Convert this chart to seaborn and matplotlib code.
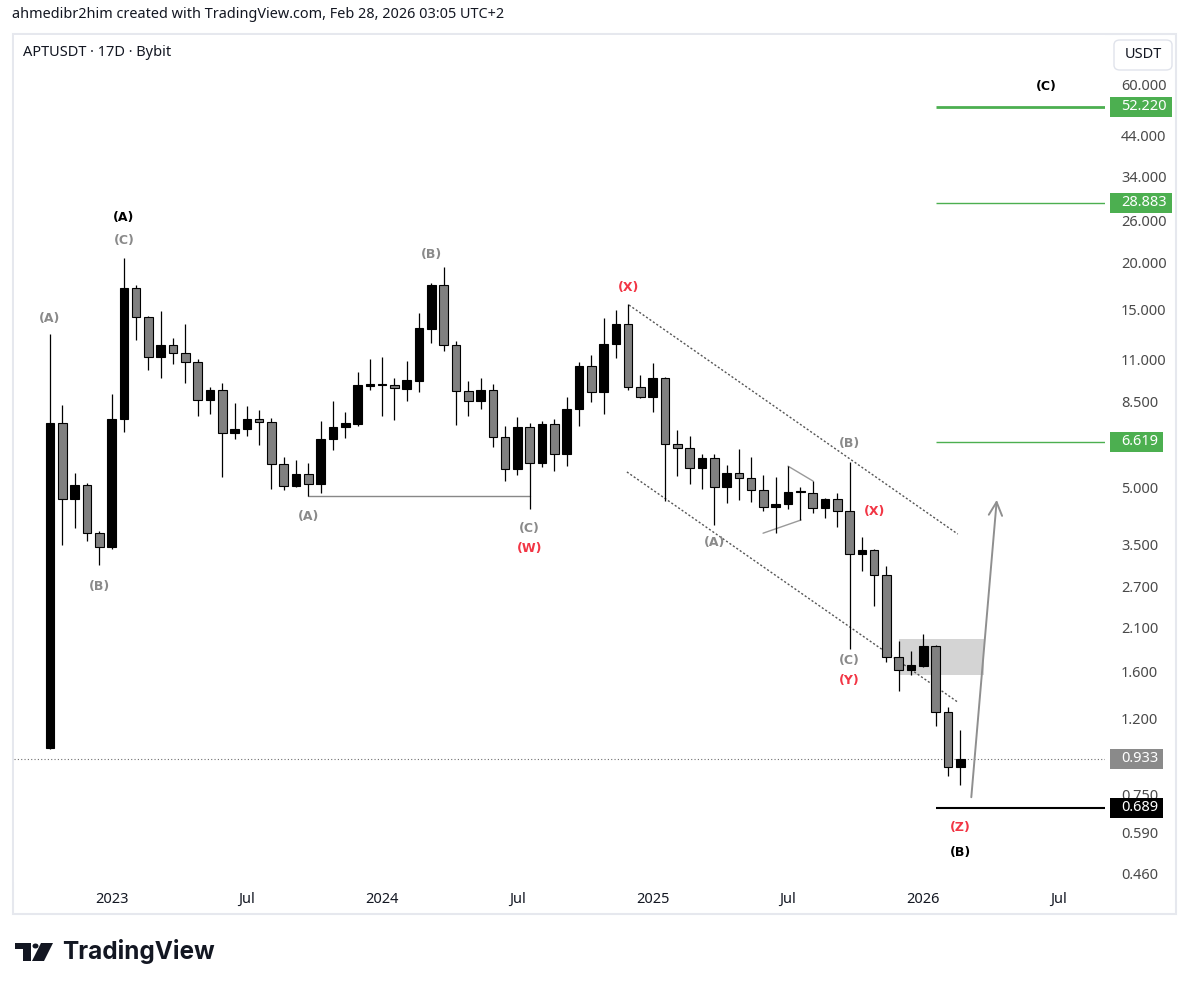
import matplotlib
matplotlib.use("Agg")
import matplotlib.pyplot as plt
from matplotlib.patches import Rectangle, FancyBboxPatch, Polygon, Circle
from matplotlib.ticker import NullLocator
import seaborn as sns

W, H = 1189, 990

# APTUSDT 17D candles (bar index 0 = first Bybit bar, Oct 2022)
opens = [1.00, 7.43, 4.64, 5.06, 3.76, 3.45, 7.62, 17.1, 14.3, 11.2,
         12.0, 11.45, 10.8, 8.56, 9.11, 6.99, 7.16, 7.62, 7.47, 5.77,
         5.03, 5.42, 5.09, 6.73, 7.25, 7.40, 9.33, 9.42, 9.39, 9.16,
         9.63, 13.3, 17.4, 12.0, 9.05, 8.51, 9.11, 6.81, 5.59, 7.25,
         5.80, 7.38, 6.13, 8.10, 10.57, 9.00, 12.1, 13.7, 9.28, 8.72,
         9.81, 6.52, 6.36, 5.62, 5.98, 5.00, 5.45, 5.29, 4.91, 4.42,
         4.50, 4.85, 4.82, 4.39, 4.64, 4.31, 3.30, 3.39, 2.90, 1.75,
         1.61, 1.655, 1.87, 1.245, 0.886]
highs = [12.9, 8.30, 5.45, 5.12, 3.80, 8.88, 20.6, 17.4, 14.4, 14.8,
         12.6, 13.7, 11.0, 9.30, 9.50, 8.40, 8.25, 8.05, 7.66, 6.02,
         5.91, 5.80, 7.52, 8.50, 7.95, 10.2, 11.04, 11.17, 9.81, 10.9,
         14.7, 17.6, 19.5, 12.3, 9.63, 9.81, 9.45, 7.29, 7.71, 7.43,
         7.52, 7.62, 8.72, 10.8, 11.3, 14.2, 14.9, 15.5, 10.0, 10.76,
         9.90, 7.11, 6.86, 6.13, 6.13, 5.73, 6.33, 6.02, 5.39, 5.32,
         5.69, 5.00, 5.19, 4.66, 4.82, 5.84, 3.67, 3.42, 3.07, 1.93,
         1.82, 2.02, 1.89, 1.284, 1.114]
lows = [0.99, 3.49, 3.88, 3.58, 3.09, 3.42, 7.03, 12.4, 10.3, 9.80,
        10.7, 9.50, 7.75, 7.85, 5.32, 6.73, 6.86, 6.48, 4.94, 4.91,
        5.00, 4.73, 4.82, 6.29, 6.77, 7.30, 9.11, 7.75, 7.57, 8.51,
        9.00, 12.2, 11.6, 7.34, 7.75, 8.10, 6.40, 5.19, 5.39, 4.37,
        5.66, 5.52, 5.69, 7.29, 8.46, 7.85, 11.1, 9.11, 8.65, 7.95,
        4.59, 5.35, 5.09, 4.94, 3.96, 4.53, 4.62, 4.56, 4.31, 3.76,
        4.37, 4.08, 4.26, 4.13, 3.90, 1.84, 2.98, 2.40, 1.70, 1.42,
        1.565, 1.64, 1.14, 0.838, 0.793]
closes = [7.43, 4.64, 5.06, 3.76, 3.45, 7.62, 17.1, 14.3, 11.2, 12.0,
          11.45, 10.8, 8.56, 9.11, 6.99, 7.16, 7.62, 7.47, 5.77, 5.03,
          5.42, 5.09, 6.73, 7.25, 7.43, 9.39, 9.45, 9.45, 9.22, 9.69,
          13.4, 17.4, 12.0, 9.05, 8.51, 9.11, 6.81, 5.59, 7.25, 5.80,
          7.38, 6.13, 8.10, 10.57, 9.00, 12.1, 13.7, 9.28, 8.72, 9.81,
          6.52, 6.36, 5.62, 5.98, 5.00, 5.45, 5.29, 4.91, 4.42, 4.50,
          4.85, 4.88, 4.39, 4.64, 4.31, 3.30, 3.39, 2.90, 1.75, 1.61,
          1.665, 1.87, 1.245, 0.886, 0.933]

# time axis
tick_idx = [5, 16, 27, 38, 49, 60, 71, 82]
tick_labels = ["2023", "Jul", "2024", "Jul", "2025", "Jul", "2026", "Jul"]

# price axis
price_ticks = [60, 44, 34, 26, 20, 15, 11, 8.5, 5, 3.5, 2.7, 2.1, 1.6, 1.2, 0.75, 0.59, 0.46]

# horizontal levels on the right
level_vals = [52.220, 28.883, 6.619, 0.689]
level_colors = ["#4caf50", "#4caf50", "#4caf50", "#000000"]
level_widths = [2.0, 1.0, 1.0, 1.5]
level_start = 72
last_price = 0.933

# Elliott wave labels
wave_text = ["(A)", "(A)", "(C)", "(B)", "(A)", "(B)", "(C)", "(W)", "(X)", "(A)",
             "(B)", "(X)", "(C)", "(Y)", "(Z)", "(B)", "(C)"]
wave_idx = [0, 6, 6, 4, 21, 31, 39, 39, 47, 54, 65, 67, 65, 65, 74, 74, 81]
wave_price = [14.2, 26.5, 23.0, 2.70, 4.18, 21.1, 3.88, 3.43, 17.2, 3.56,
              6.56, 4.29, 1.71, 1.51, 0.611, 0.524, 59.6]
wave_color = ["#8a8a8a", "#000000", "#8a8a8a", "#8a8a8a", "#8a8a8a", "#8a8a8a",
              "#8a8a8a", "#f23645", "#f23645", "#8a8a8a", "#8a8a8a", "#f23645",
              "#8a8a8a", "#f23645", "#f23645", "#000000", "#000000"]

# drawings
base_line = ([21, 39], [4.73, 4.73])
chan_upper = ([47.07, 73.8], [15.4, 3.74])
chan_lower = ([46.9, 73.8], [5.49, 1.324])
tri_lower = ([57.97, 61.06], [3.76, 4.08])
tri_upper = ([60.0, 62.03], [5.69, 5.19])
zone_x = (69.0, 75.9)
zone_y = (1.565, 1.955)
arrow_from = (74.88, 0.723)
arrow_to = (76.99, 4.70)

sns.set_theme(style="white")
plt.rcParams["font.family"] = ["Noto Sans", "DejaVu Sans"]

fig = plt.figure(figsize=(W / 100, H / 100), dpi=100)
fig.patch.set_facecolor("white")

def fx(px):
    return px / W

def fy(py):
    return 1 - py / H

ax = fig.add_axes([fx(14), fy(882), (1105 - 14) / W, (882 - 35) / H])
ax.set_facecolor("white")
ax.set_yscale("log")
ax.set_xlim(-2.93, 85.77)
ax.set_ylim(0.4356, 81.7)
for s in ax.spines.values():
    s.set_visible(False)

# candles
xs = list(range(len(opens)))
ax.vlines(xs, lows, highs, color="black", lw=0.9, zorder=3)
bottoms = [min(o, c) for o, c in zip(opens, closes)]
heights = [max(abs(c - o), 1e-4) for o, c in zip(opens, closes)]
colors = ["black" if c >= o else "#808080" for o, c in zip(opens, closes)]
ax.bar(xs, heights, bottom=bottoms, width=0.7, color=colors,
       edgecolor="black", linewidth=0.8, zorder=4)

# gray zone
ax.add_patch(Rectangle((zone_x[0], zone_y[0]), zone_x[1] - zone_x[0],
                       zone_y[1] - zone_y[0], fc="#d4d4d4", ec="none", zorder=2))

# lines
sns.lineplot(x=chan_upper[0], y=chan_upper[1], ax=ax, color="#555555", lw=1,
             linestyle=(0, (1.5, 1.5)), zorder=2)
sns.lineplot(x=chan_lower[0], y=chan_lower[1], ax=ax, color="#555555", lw=1,
             linestyle=(0, (1.5, 1.5)), zorder=2)
ax.plot(*base_line, color="#888888", lw=1, zorder=2)
ax.plot(*tri_lower, color="#9a9a9a", lw=1, zorder=2)
ax.plot(*tri_upper, color="#9a9a9a", lw=1, zorder=2)
ax.annotate("", xy=arrow_to, xytext=arrow_from,
            arrowprops=dict(arrowstyle="->,head_length=0.8,head_width=0.4",
                            color="#8f8f8f", lw=1.4), zorder=5)

ax.axhline(last_price, color="#707070", lw=0.8, linestyle=(0, (1, 2)), zorder=1)
for v, c, lw in zip(level_vals, level_colors, level_widths):
    ax.hlines(v, level_start, 85.77, color=c, lw=lw, zorder=2)

for t, i, p, c in zip(wave_text, wave_idx, wave_price, wave_color):
    ax.text(i, p, t, color=c, fontsize=9, fontweight="bold", ha="center",
            va="center", family="DejaVu Sans", zorder=6)

# axes ticks
ax.set_yticks(price_ticks)
ax.set_yticklabels([f"{v:.3f}" for v in price_ticks])
ax.yaxis.set_minor_locator(NullLocator())
ax.tick_params(axis="y", which="both", left=False, right=False, labelleft=False,
               labelright=True, length=0, pad=11.5, labelsize=10.5,
               labelcolor="#4a4a4a")
ax.set_xticks(tick_idx)
ax.set_xticklabels(tick_labels)
ax.tick_params(axis="x", length=0, pad=7, labelsize=10.5, labelcolor="#131722")
for lab in ax.get_xticklabels():
    if lab.get_text() != "Jul":
        lab.set_fontweight("bold")
ax.grid(False)

# price boxes on the axis
box_vals = level_vals + [last_price]
box_cols = level_colors + ["#8a8a8a"]
for v, c in zip(box_vals, box_cols):
    ypix = ax.transData.transform((0, v))[1]
    txt = f"{v:.3f}"
    wbox = 62 if len(txt) > 5 else 53
    fig.add_artist(Rectangle((fx(1110), (ypix - 10) / H), wbox / W, 20 / H,
                             transform=fig.transFigure, fc=c, ec="none", zorder=5))
    fig.text(fx(1121), (ypix + 0.5) / H, txt, color="white", fontsize=10.5,
             va="center", ha="left", zorder=6)

# frame, header, title, currency button
fig.add_artist(Rectangle((fx(13), fy(914)), (1176 - 13) / W, (914 - 34) / H,
                         transform=fig.transFigure, fc="none", ec="#e6e8ee",
                         lw=1.5, zorder=0))
fig.add_artist(FancyBboxPatch((fx(1114), fy(70)), 58 / W, 30 / H,
                              boxstyle="round,pad=0,rounding_size=0.005",
                              transform=fig.transFigure, fc="white",
                              ec="#e0e3eb", lw=1))
fig.text(fx(1143), fy(55), "USDT", fontsize=10.5, ha="center", va="center",
         color="#131722")
fig.text(fx(12), fy(14), "ahmedibr2him created with TradingView.com, Feb 28, 2026 03:05 UTC+2",
         fontsize=10.4, va="center", ha="left", color="#131722")
fig.text(fx(23), fy(53), "APTUSDT · 17D · Bybit", fontsize=10.5, va="center",
         ha="left", color="#131722")

# TradingView logo
def pts(seq):
    return [(fx(a), fy(b)) for a, b in seq]

fig.add_artist(Polygon(pts([(15, 943), (31, 943), (31, 961), (23, 961),
                            (23, 949), (15, 949)]),
                       closed=True, transform=fig.transFigure, fc="#131722", ec="none"))
fig.add_artist(Polygon(pts([(41, 943), (53, 943), (44, 961), (32, 961)]),
                       closed=True, transform=fig.transFigure, fc="#131722", ec="none"))
fig.add_artist(Circle((fx(35.5), fy(946)), 3 / W, transform=fig.transFigure,
                      fc="#131722", ec="none"))
fig.text(fx(62), fy(952), "TradingView", fontsize=17.5, fontweight="bold",
         family=["Inter", "DejaVu Sans"], va="center", ha="left", color="#131722")

fig.savefig("out.png", dpi=100)
